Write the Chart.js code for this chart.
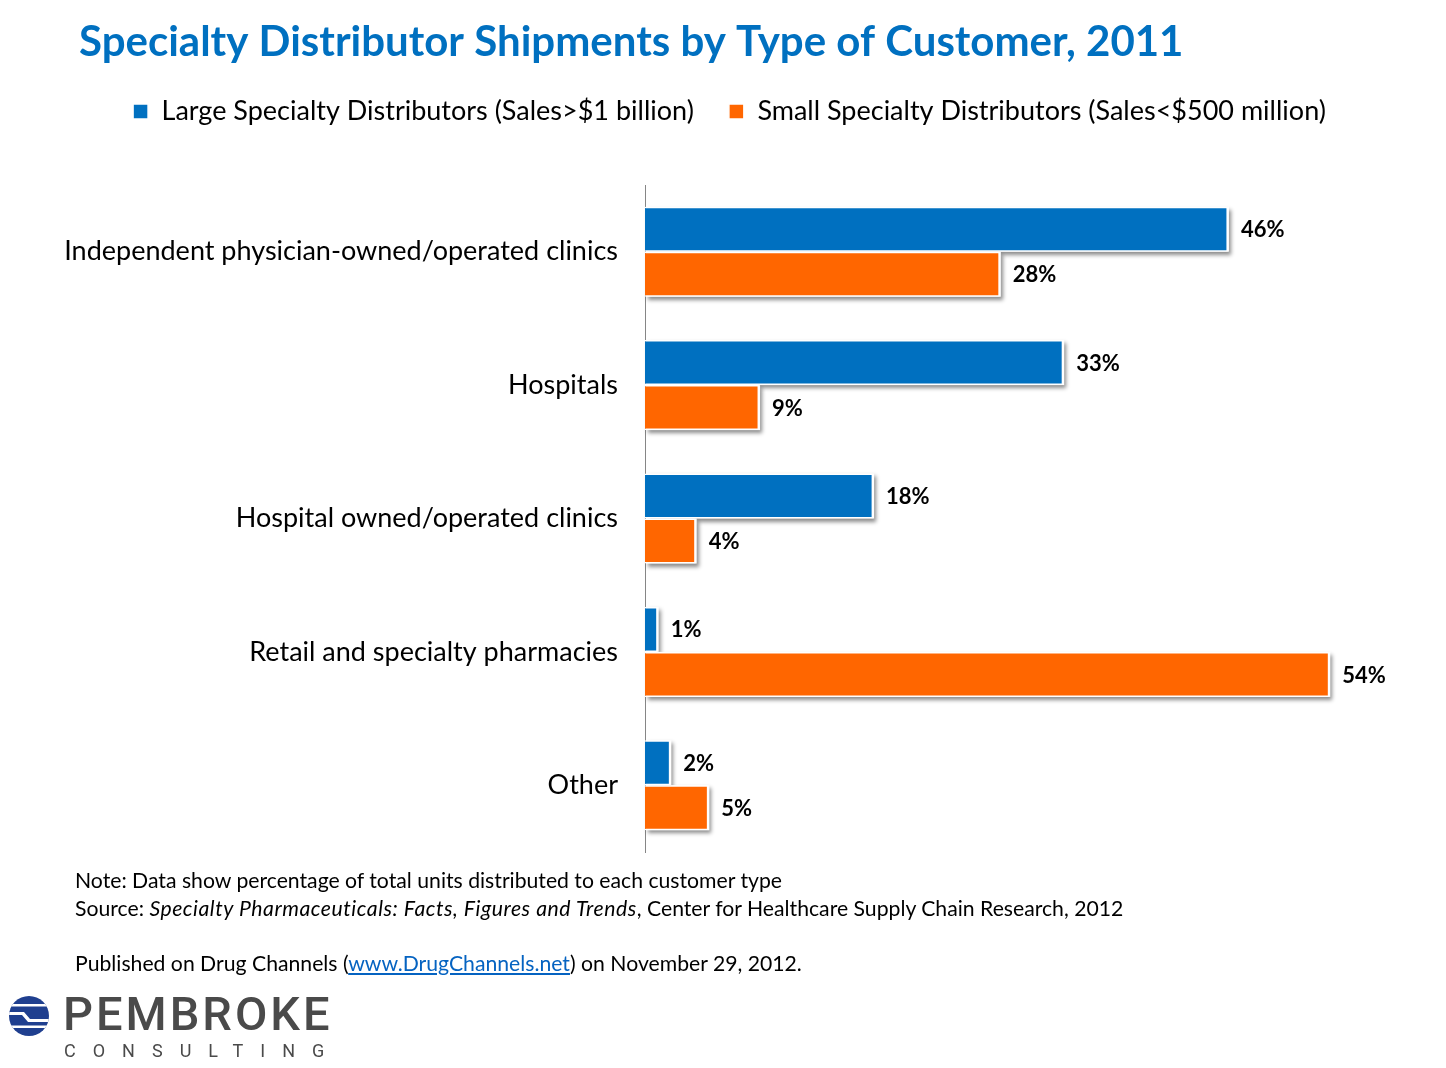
<!DOCTYPE html>
<html>
<head>
<meta charset="utf-8">
<script src="https://cdn.jsdelivr.net/npm/chart.js@4.4.0/dist/chart.umd.min.js"></script>
<style>
  html, body { margin: 0; padding: 0; background: #ffffff; }
  #wrap { position: relative; width: 1446px; height: 1068px; overflow: hidden; }
  #c { position: absolute; left: 0; top: 0; }
  .note { position: absolute; left: 75px; font-family: Lato, sans-serif; font-size: 21.2px; color: #000; white-space: nowrap; line-height: 24px; }
  .note i { letter-spacing: 0.55px; }
  .note a { color: #0563C1; text-decoration: underline; }
  #logo-icon { position: absolute; left: 8px; top: 995px; }
  #logo-main { position: absolute; left: 63px; top: 986px; font-family: Roboto, sans-serif; font-weight: 500; font-size: 47px; letter-spacing: 3px; color: #4a4a4a; line-height: 56px; }
  #logo-sub { position: absolute; left: 64px; top: 1039px; font-family: Roboto, sans-serif; font-weight: 400; font-size: 18px; letter-spacing: 17px; color: #4a4a4a; line-height: 24px; }
</style>
</head>
<body>
<div id="wrap">
  <canvas id="c" width="1446" height="1068"></canvas>
  <div class="note" style="top:868px">Note: Data show percentage of total units distributed to each customer type</div>
  <div class="note" style="top:896px">Source: <i>Specialty Pharmaceuticals: Facts, Figures and Trends</i>, Center for Healthcare Supply Chain Research, 2012</div>
  <div class="note" style="top:951px">Published on Drug Channels (<a>www.DrugChannels.net</a>) on November 29, 2012.</div>
  <svg id="logo-icon" width="42" height="42" viewBox="0 0 42 42">
    <defs><clipPath id="cc"><circle cx="21" cy="21" r="20"/></clipPath></defs>
    <g clip-path="url(#cc)">
      <rect x="0" y="0" width="42" height="42" fill="#1f3f8f"/>
      <rect x="0" y="9" width="42" height="2.5" fill="#fff"/>
      <rect x="0" y="30.5" width="42" height="2.5" fill="#fff"/>
      <path d="M0 17 L16 17 L22 24 L42 24 L42 27 L20 27 L14 20 L0 20 Z" fill="#fff"/>
    </g>
  </svg>
  <div id="logo-main">PEMBROKE</div>
  <div id="logo-sub">CONSULTING</div>
</div>
<script>
const categories = [
  "Independent physician-owned/operated clinics",
  "Hospitals",
  "Hospital owned/operated clinics",
  "Retail and specialty pharmacies",
  "Other"
];
const seriesNames = [
  "Large Specialty Distributors (Sales>$1 billion)",
  "Small Specialty Distributors (Sales<$500 million)"
];
const largeValues = [46, 33, 18, 1, 2];
const smallValues = [28, 9, 4, 54, 5];
const titleText = "Specialty Distributor Shipments by Type of Customer, 2011";

const FONT = "Lato, 'Open Sans', sans-serif";

const shadowPlugin = {
  id: 'barShadow',
  beforeDatasetsDraw(chart) {
    const ctx = chart.ctx;
    ctx.save();
    ctx.shadowColor = 'rgba(0,0,0,0.45)';
    ctx.shadowBlur = 4;
    ctx.shadowOffsetX = 2;
    ctx.shadowOffsetY = 3;
    ctx.fillStyle = '#ffffff';
    chart.data.datasets.forEach((ds, i) => {
      const meta = chart.getDatasetMeta(i);
      meta.data.forEach(el => {
        const p = el.getProps(['x', 'y', 'base', 'height'], true);
        const left = Math.min(p.base, p.x);
        const w = Math.abs(p.x - p.base);
        ctx.fillRect(left + 1, p.y - p.height / 2, w, p.height);
      });
    });
    ctx.restore();
  }
};

const labelPlugin = {
  id: 'valueLabels',
  afterDatasetsDraw(chart) {
    const ctx = chart.ctx;
    ctx.save();
    ctx.font = "bold 22px " + FONT;
    ctx.fillStyle = '#000000';
    ctx.textAlign = 'left';
    ctx.textBaseline = 'middle';
    chart.data.datasets.forEach((ds, i) => {
      const meta = chart.getDatasetMeta(i);
      meta.data.forEach((el, j) => {
        const p = el.getProps(['x', 'y'], true);
        ctx.fillText(ds.data[j] + '%', p.x + 13, p.y + 1);
      });
    });
    ctx.restore();
  }
};

new Chart(document.getElementById('c'), {
  type: 'bar',
  data: {
    labels: categories,
    datasets: [
      {
        label: seriesNames[0],
        data: largeValues,
        backgroundColor: '#0070C0',
        borderColor: '#ffffff',
        borderWidth: 1.5,
        borderSkipped: 'start',
        categoryPercentage: 0.675,
        barPercentage: 1.0
      },
      {
        label: seriesNames[1],
        data: smallValues,
        backgroundColor: '#FF6600',
        borderColor: '#ffffff',
        borderWidth: 1.5,
        borderSkipped: 'start',
        categoryPercentage: 0.675,
        barPercentage: 1.0
      }
    ]
  },
  options: {
    indexAxis: 'y',
    responsive: false,
    animation: false,
    devicePixelRatio: 1,
    layout: { padding: { left: 79, right: 66, top: 0, bottom: 216 } },
    scales: {
      x: {
        display: false,
        min: 0,
        max: 58
      },
      y: {
        grid: { display: false, drawTicks: false },
        border: { display: true, color: '#868686', width: 1 },
        ticks: {
          color: '#000000',
          font: { family: FONT, size: 27 },
          padding: 27
        },
        afterFit(scale) {
          scale.width = 566;
          scale._computeLabelArea = function () { return undefined; };
        }
      }
    },
    plugins: {
      title: {
        display: true,
        text: titleText,
        align: 'start',
        color: '#0070C0',
        font: { family: FONT, size: 42, weight: 'bold', lineHeight: 1.0 },
        padding: { top: 21, bottom: 0 }
      },
      legend: {
        display: true,
        position: 'top',
        labels: {
          color: '#000000',
          font: { family: FONT, size: 27 },
          boxWidth: 15,
          boxHeight: 15,
          padding: 35
        }
      },
      subtitle: {
        display: true,
        text: ' ',
        position: 'top',
        weight: 500,
        color: 'rgba(0,0,0,0)',
        font: { size: 1, lineHeight: 1.0 },
        padding: { top: 0, bottom: 49 }
      },
      tooltip: { enabled: false }
    }
  },
  plugins: [shadowPlugin, labelPlugin]
});
</script>
</body>
</html>
